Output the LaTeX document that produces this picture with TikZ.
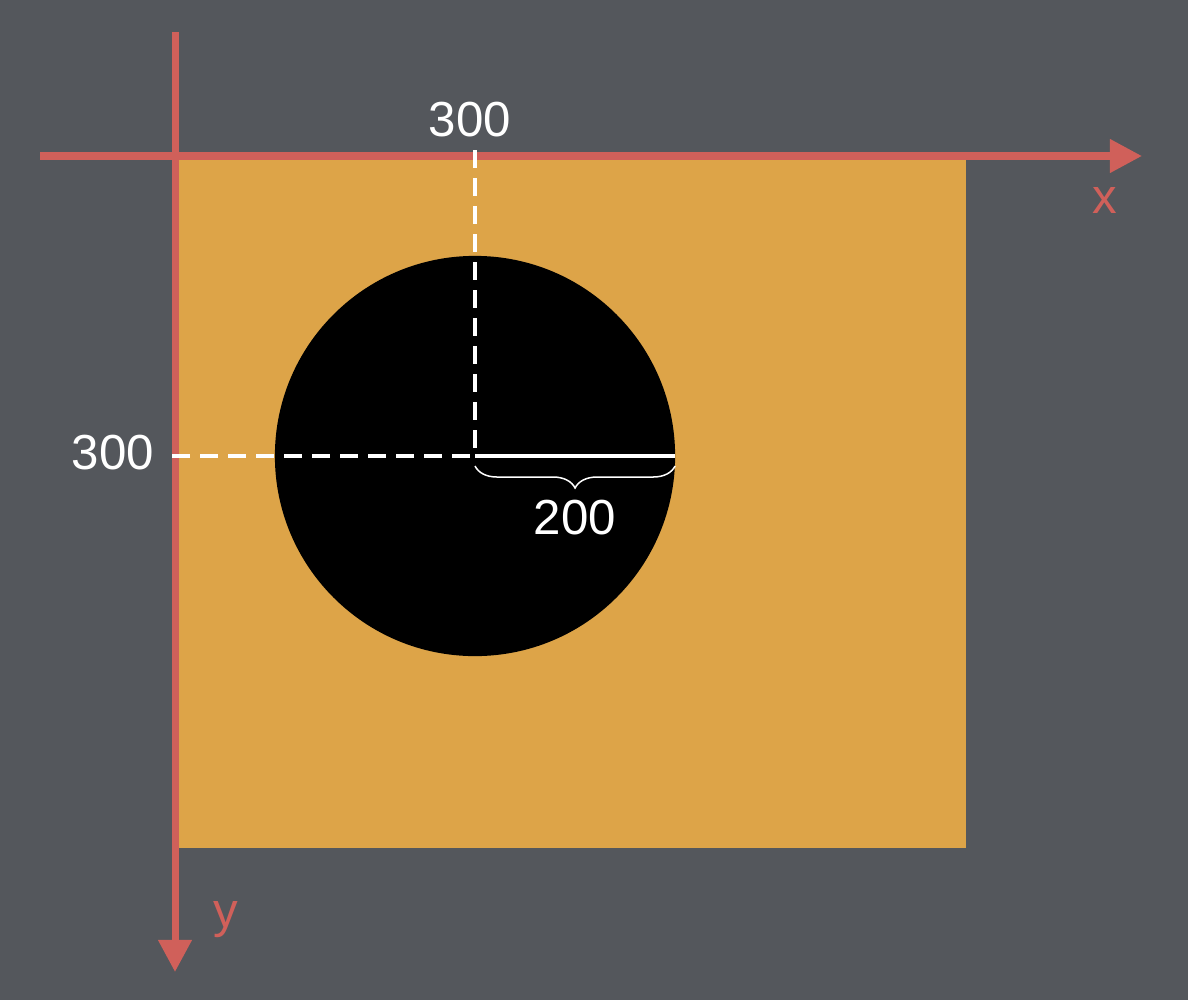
\documentclass[tikz,border=0pt]{standalone}
\usepackage{fontspec}
\setmainfont{Liberation Sans}
\usetikzlibrary{arrows.meta,decorations.pathreplacing}
\definecolor{slate}{HTML}{54575C}
\definecolor{canvas}{HTML}{DDA448}
\definecolor{axisred}{HTML}{D0605A}
\begin{document}
\begin{tikzpicture}[x=0.01cm,y=-0.01cm,inner sep=0pt,outer sep=0pt,
axis/.style={draw=axisred,line width=0.07cm,-{Triangle[length=0.32cm,width=0.32cm]}},
dimline/.style={draw=white,line width=0.035cm,dash pattern=on 0.18cm off 0.1cm},
label/.style={font=\fontsize{14}{16}\selectfont,text=white},
axislabel/.style={font=\fontsize{14}{16}\selectfont,text=axisred}]
\fill[slate] (0,0) rectangle (1188,1000);
\useasboundingbox (0,0) rectangle (1188,1000);
% the canvas and the disc on it
\fill[canvas] (177,158) rectangle (966,848);
\draw (475,456) node[circle,fill=black,minimum size=4cm] (disc) {};
\coordinate (O) at (475,456);
% axes
\coordinate (xfrom) at (40,156);
\coordinate (xto) at (1142,156);
\coordinate (yfrom) at (175,32);
\coordinate (yto) at (175,972);
\draw[axis] (xfrom) -- (xto);
\draw[axis] (yfrom) -- (yto);
\draw (1105,200) node[axislabel] (xlab) {x};
\draw (226,920) node[axislabel] (ylab) {y};
% offsets of the centre
\draw (470,120) node[label] (toplab) {300};
\draw (113,453) node[label] (leftlab) {300};
\coordinate (ttop) at (475,150);
\coordinate (lleft) at (172,456);
\draw[dimline] (ttop) -- (O);
\draw[dimline] (lleft) -- (O);
% radius
\draw[white,line width=0.04cm] (O) -- (disc.east);
\draw[white,line width=0.015cm,decorate,decoration={brace,amplitude=0.22cm}] ([yshift=-0.1cm]disc.east) -- ([yshift=-0.1cm]O) node[midway,below=0.34cm,label] (radlab) {200};
\end{tikzpicture}
\end{document}
